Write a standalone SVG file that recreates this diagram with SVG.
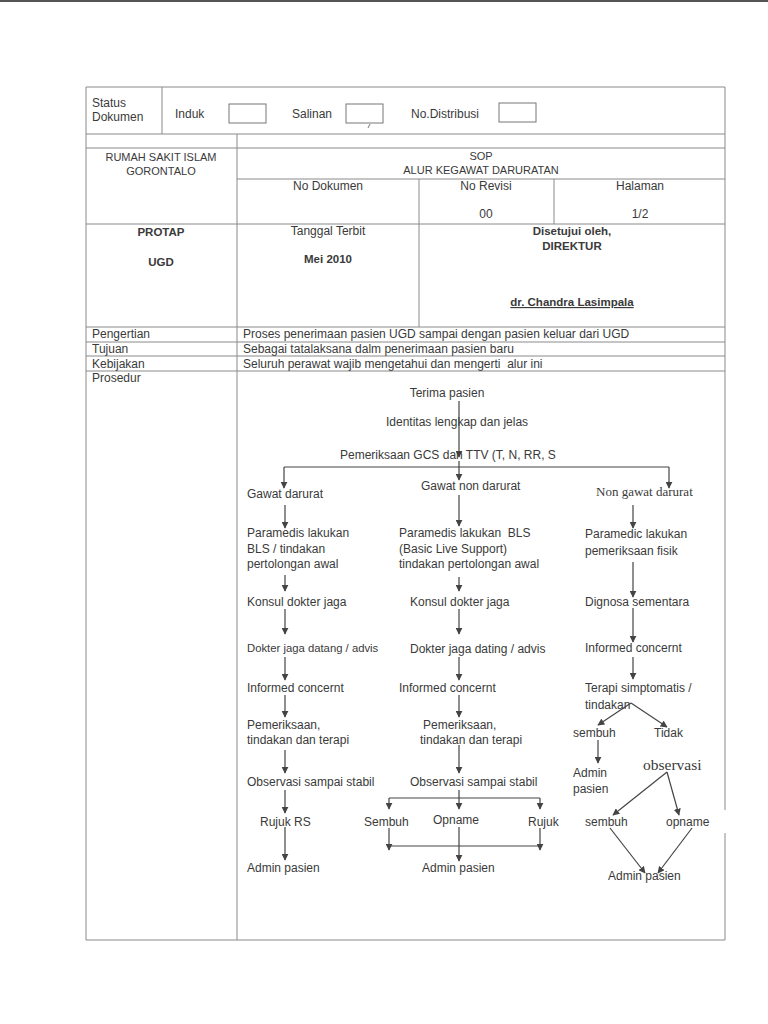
<svg xmlns="http://www.w3.org/2000/svg" width="768" height="1024" viewBox="0 0 768 1024">
<defs>
<marker id="ah" viewBox="0 0 10 10" refX="9" refY="5" markerWidth="7" markerHeight="7" markerUnits="userSpaceOnUse" orient="auto">
<path d="M0,0 L10,5 L0,10 z" fill="#444"/>
</marker>
<style>
text{font-family:"Liberation Sans",Arial,sans-serif;font-size:12px;fill:#3a3a3a}
.c{text-anchor:middle}
.caps{font-size:11px}
.b{font-weight:bold;font-size:11.5px}
.sm{font-size:11.3px}
.pre{white-space:pre}
.serif{font-family:"Liberation Serif","Times New Roman",serif;font-size:13px}
.obs{font-family:"Liberation Serif","Times New Roman",serif;font-size:15.5px}
.tl{stroke:#8a8a8a;stroke-width:1;fill:none}
.box{stroke:#777;stroke-width:1;fill:#fff}
.ar{stroke:#444;stroke-width:1.2;fill:none;marker-end:url(#ah)}
.ln{stroke:#444;stroke-width:1.2;fill:none}
</style>
</defs>
<rect width="768" height="1024" fill="#fff"/>
<rect x="0" y="0" width="768" height="2" fill="#555"/>

<g id="table">
<line class="tl" x1="86" y1="87" x2="725" y2="87"/>
<line class="tl" x1="86" y1="87" x2="86" y2="940"/>
<line class="tl" x1="86" y1="940" x2="725" y2="940"/>
<line class="tl" x1="725" y1="87" x2="725" y2="810"/>
<line class="tl" x1="725" y1="833" x2="725" y2="940"/>
<line class="tl" x1="86" y1="134" x2="725" y2="134"/>
<line class="tl" x1="86" y1="148" x2="725" y2="148"/>
<line class="tl" x1="162" y1="87" x2="162" y2="134"/>
<line class="tl" x1="237" y1="134" x2="237" y2="940"/>
<line class="tl" x1="237" y1="179" x2="725" y2="179"/>
<line class="tl" x1="86" y1="224" x2="725" y2="224"/>
<line class="tl" x1="419" y1="179" x2="419" y2="327"/>
<line class="tl" x1="554" y1="179" x2="554" y2="224"/>
<line class="tl" x1="86" y1="327" x2="725" y2="327"/>
<line class="tl" x1="86" y1="342" x2="725" y2="342"/>
<line class="tl" x1="86" y1="356" x2="725" y2="356"/>
<line class="tl" x1="86" y1="371" x2="725" y2="371"/>
</g>

<g id="status-row">
<text x="92" y="107">Status</text>
<text x="92" y="121">Dokumen</text>
<text x="175" y="118">Induk</text>
<rect class="box" x="229" y="104" width="37" height="19"/>
<text x="292" y="118">Salinan</text>
<rect class="box" x="346" y="104" width="37" height="19"/>
<path d="M370,124 L368,128" stroke="#777" stroke-width="1"/>
<text x="411" y="118">No.Distribusi</text>
<rect class="box" x="499" y="103" width="37" height="19"/>
</g>

<g id="header">
<text class="c caps" x="161" y="161">RUMAH SAKIT ISLAM</text>
<text class="c caps" x="161" y="175">GORONTALO</text>
<text class="c caps" x="481" y="160">SOP</text>
<text class="c caps" x="481" y="174">ALUR KEGAWAT DARURATAN</text>
<text class="c" x="328" y="190">No Dokumen</text>
<text class="c" x="486" y="190">No Revisi</text>
<text class="c" x="640" y="190">Halaman</text>
<text class="c" x="486" y="218">00</text>
<text class="c" x="640" y="218">1/2</text>
<text class="c b caps" x="161" y="236">PROTAP</text>
<text class="c b caps" x="161" y="266">UGD</text>
<text class="c" x="328" y="235">Tanggal Terbit</text>
<text class="c b" x="328" y="263">Mei 2010</text>
<text class="c b" x="572" y="235">Disetujui oleh,</text>
<text class="c b caps" x="572" y="250">DIREKTUR</text>
<text class="c b" x="572" y="306" text-decoration="underline">dr. Chandra Lasimpala</text>
</g>

<g id="info-rows">
<text x="92" y="338">Pengertian</text>
<text x="243" y="338">Proses penerimaan pasien UGD sampai dengan pasien keluar dari UGD</text>
<text x="92" y="353">Tujuan</text>
<text x="243" y="353">Sebagai tatalaksana dalm penerimaan pasien baru</text>
<text x="92" y="368">Kebijakan</text>
<text class="pre" xml:space="preserve" x="243" y="368">Seluruh perawat wajib mengetahui dan mengerti  alur ini</text>
<text x="92" y="382">Prosedur</text>
</g>

<g id="connectors">
<line class="ar" x1="459" y1="401" x2="459" y2="457"/>
<line class="ar" x1="459" y1="461" x2="459" y2="480"/>
<line class="ln" x1="284" y1="467" x2="669" y2="467"/>
<line class="ar" x1="284" y1="467" x2="284" y2="488"/>
<line class="ar" x1="669" y1="467" x2="669" y2="488"/>

<line class="ar" x1="285" y1="505" x2="285" y2="528"/>
<line class="ar" x1="285" y1="575" x2="285" y2="591"/>
<line class="ar" x1="285" y1="609" x2="285" y2="634"/>
<line class="ar" x1="285" y1="657" x2="285" y2="680"/>
<line class="ar" x1="285" y1="695" x2="285" y2="717"/>
<line class="ar" x1="285" y1="750" x2="285" y2="773"/>
<line class="ar" x1="285" y1="790" x2="285" y2="813"/>
<line class="ar" x1="285" y1="827" x2="285" y2="860"/>

<line class="ar" x1="459" y1="495" x2="459" y2="526"/>
<line class="ar" x1="459" y1="577" x2="459" y2="591"/>
<line class="ar" x1="459" y1="609" x2="459" y2="634"/>
<line class="ar" x1="459" y1="657" x2="459" y2="680"/>
<line class="ar" x1="459" y1="695" x2="459" y2="717"/>
<line class="ar" x1="459" y1="745" x2="459" y2="773"/>
<line class="ar" x1="459" y1="790" x2="459" y2="809"/>
<line class="ln" x1="389" y1="798" x2="540" y2="798"/>
<line class="ar" x1="389" y1="798" x2="389" y2="809"/>
<line class="ar" x1="540" y1="798" x2="540" y2="809"/>
<line class="ar" x1="389" y1="828" x2="389" y2="850"/>
<line class="ar" x1="540" y1="828" x2="540" y2="850"/>
<line class="ln" x1="389" y1="846" x2="540" y2="846"/>
<line class="ar" x1="459" y1="827" x2="459" y2="861"/>

<line class="ar" x1="633" y1="505" x2="633" y2="528"/>
<line class="ar" x1="633" y1="562" x2="633" y2="597"/>
<line class="ar" x1="633" y1="608" x2="633" y2="642"/>
<line class="ar" x1="633" y1="657" x2="633" y2="679"/>
<line class="ar" x1="631" y1="703" x2="598" y2="725"/>
<line class="ar" x1="631" y1="703" x2="667" y2="727"/>
<line class="ar" x1="598" y1="740" x2="598" y2="763"/>
<line class="ar" x1="667" y1="772" x2="613" y2="815"/>
<line class="ar" x1="667" y1="772" x2="679" y2="815"/>
<line class="ar" x1="610" y1="828" x2="645" y2="873"/>
<line class="ar" x1="692" y1="828" x2="658" y2="873"/>
</g>

<g id="n-terima"><text class="c" x="447" y="397">Terima pasien</text></g>
<g id="n-identitas"><text x="386" y="426">Identitas lengkap dan jelas</text></g>
<g id="n-pemeriksaan-gcs"><text x="340" y="459">Pemeriksaan GCS dan TTV (T, N, RR, S</text></g>
<g id="n-gawat-darurat"><text x="247" y="498">Gawat darurat</text></g>
<g id="n-gawat-non"><text x="421" y="490">Gawat non darurat</text></g>
<g id="n-non-gawat"><text class="serif" x="596" y="496">Non gawat darurat</text></g>

<g id="l-paramedis"><text x="247" y="537">Paramedis lakukan</text><text x="247" y="553">BLS / tindakan</text><text x="247" y="568">pertolongan awal</text></g>
<g id="l-konsul"><text x="247" y="606">Konsul dokter jaga</text></g>
<g id="l-dokter"><text class="sm" x="247" y="652">Dokter jaga datang / advis</text></g>
<g id="l-informed"><text x="247" y="692">Informed concernt</text></g>
<g id="l-pemeriksaan"><text x="247" y="729">Pemeriksaan,</text><text x="247" y="744">tindakan dan terapi</text></g>
<g id="l-observasi"><text x="247" y="786">Observasi sampai stabil</text></g>
<g id="l-rujuk"><text x="260" y="826">Rujuk RS</text></g>
<g id="l-admin"><text x="247" y="872">Admin pasien</text></g>

<g id="m-paramedis"><text class="pre" xml:space="preserve" x="399" y="537">Paramedis lakukan  BLS</text><text x="399" y="553">(Basic Live Support)</text><text x="399" y="568">tindakan pertolongan awal</text></g>
<g id="m-konsul"><text x="410" y="606">Konsul dokter jaga</text></g>
<g id="m-dokter"><text x="410" y="653">Dokter jaga dating / advis</text></g>
<g id="m-informed"><text x="399" y="692">Informed concernt</text></g>
<g id="m-pemeriksaan"><text x="423" y="729">Pemeriksaan,</text><text x="420" y="744">tindakan dan terapi</text></g>
<g id="m-observasi"><text x="410" y="786">Observasi sampai stabil</text></g>
<g id="m-sembuh"><text x="364" y="826">Sembuh</text></g>
<g id="m-opname"><text x="433" y="824">Opname</text></g>
<g id="m-rujuk"><text x="528" y="826">Rujuk</text></g>
<g id="m-admin"><text x="422" y="872">Admin pasien</text></g>

<g id="r-paramedic"><text x="585" y="538">Paramedic lakukan</text><text x="585" y="555">pemeriksaan fisik</text></g>
<g id="r-dignosa"><text x="585" y="606">Dignosa sementara</text></g>
<g id="r-informed"><text x="585" y="652">Informed concernt</text></g>
<g id="r-terapi"><text x="585" y="692">Terapi simptomatis /</text><text x="585" y="709">tindakan</text></g>
<g id="r-sembuh1"><text x="573" y="737">sembuh</text></g>
<g id="r-tidak"><text x="654" y="737">Tidak</text></g>
<g id="r-admin1"><text x="573" y="777">Admin</text><text x="573" y="793">pasien</text></g>
<g id="r-observasi"><text class="obs" x="643" y="770">observasi</text></g>
<g id="r-sembuh2"><text x="585" y="826">sembuh</text></g>
<g id="r-opname"><text x="666" y="826">opname</text></g>
<g id="r-admin2"><text x="608" y="880">Admin pasien</text></g>
</svg>
